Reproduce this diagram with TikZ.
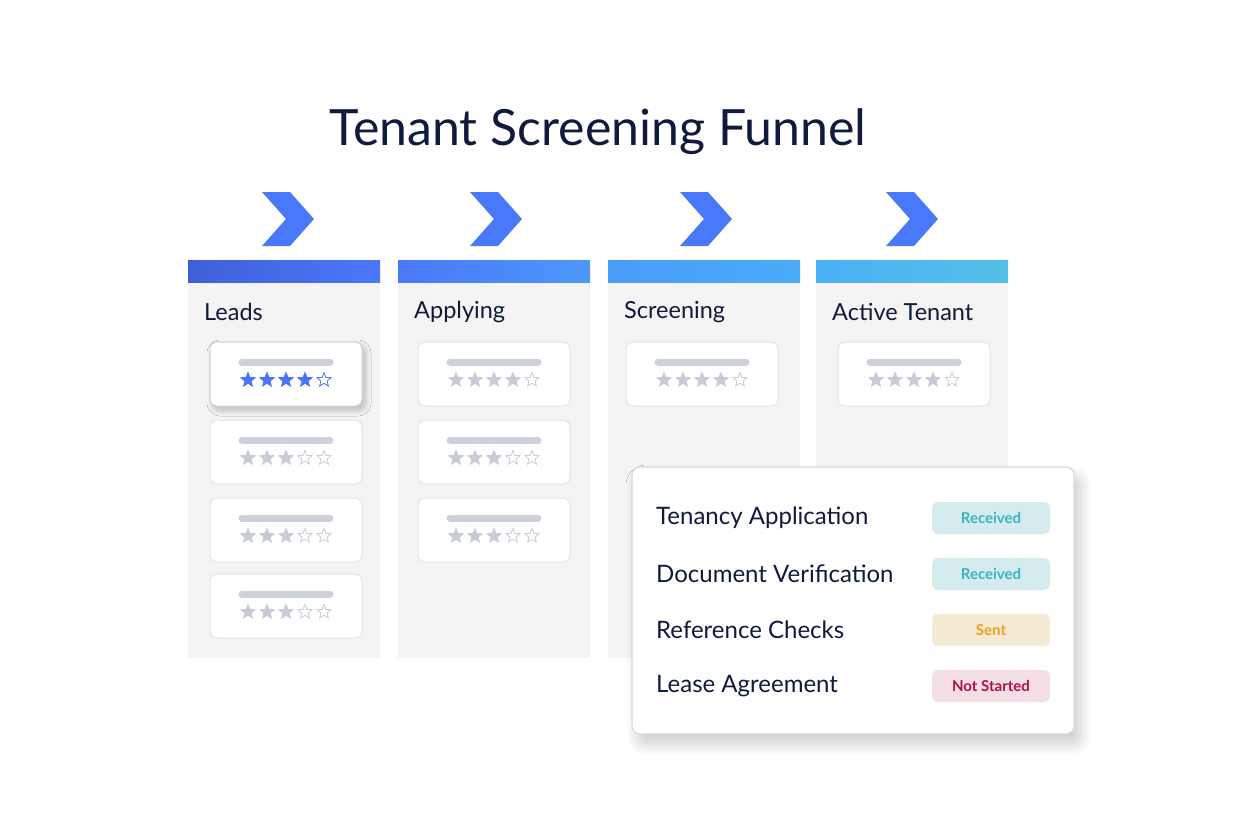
\documentclass[tikz,border=0pt]{standalone}
\usepackage{fontspec}
\setmainfont{Lato}
\usetikzlibrary{shapes.geometric,shadows.blur}
\definecolor{ink}{HTML}{0F1A3C}
\definecolor{colbg}{HTML}{F4F4F5}
\definecolor{cardln}{HTML}{E2E4E8}
\definecolor{barg}{HTML}{CDD1DA}
\definecolor{stg}{HTML}{C6CBD6}
\definecolor{stb}{HTML}{4A73F7}
\definecolor{chev}{HTML}{4A78FA}
\tikzset{
  chevron/.style={fill=chev},
  card/.style={draw=cardln,line width=1pt,fill=white,rounded corners=7pt,minimum width=152pt,minimum height=64pt,inner sep=0},
  coltitle/.style={anchor=west,font=\fontsize{23.5}{26}\selectfont,text=ink,inner sep=0},
  st/.style={star,star points=5,star point ratio=2.3,minimum size=15pt,inner sep=0,line width=0.8pt},
  row/.style={anchor=west,font=\fontsize{24}{26}\selectfont,text=ink,inner sep=0},
  badge/.style={rounded corners=6pt,minimum width=118pt,minimum height=32pt,inner sep=0,font=\fontsize{15}{17}\selectfont\bfseries},
}
\newcommand\stars[4]{% x y filled color
  \foreach \i in {0,...,4}{%
    \ifnum\i<#3
      \node[st,fill=#4,draw=#4] at (#1+19*\i,#2) {};
    \else
      \node[st,draw=#4] at (#1+19*\i,#2) {};
    \fi}}
\newcommand\mkcard[5]{% name x y nstars color
  \node[card] (#1) at (#2,#3) {};
  \draw[barg,line width=7pt,line cap=round] (#2-44,#3-12) -- (#2+44,#3-12);
  \stars{#2-38}{#3+6}{#4}{#5}}
\begin{document}
\begin{tikzpicture}[x=1pt,y=-1pt]
\useasboundingbox (0,0) rectangle (1260,840);
\node[font=\fontsize{50}{54}\selectfont,text=ink] (title) at (598,132) {Tenant Screening Funnel};
% chevrons
\foreach \x in {262,470,680,886}{
  \fill[chevron] (\x,192) -- (\x+28,192) -- (\x+52,219) -- (\x+28,246) -- (\x,246) -- (\x+24,219) -- cycle;}
% columns
\foreach \x in {188,398,608,816}{ \fill[colbg] (\x,282) rectangle (\x+192,658); }
\shade[left color={rgb,255:red,63;green,95;blue,216},right color={rgb,255:red,74;green,120;blue,250}] (188,260) rectangle (380,282);
\shade[left color={rgb,255:red,74;green,120;blue,250},right color={rgb,255:red,76;green,152;blue,250}] (398,260) rectangle (590,282);
\shade[left color={rgb,255:red,74;green,156;blue,250},right color={rgb,255:red,74;green,172;blue,248}] (608,260) rectangle (800,282);
\shade[left color={rgb,255:red,74;green,176;blue,245},right color={rgb,255:red,85;green,191;blue,232}] (816,260) rectangle (1008,282);
\node[coltitle] (t1) at (204,312) {Leads};
\node[coltitle] (t2) at (414,312) {Applying};
\node[coltitle] (t3) at (624,312) {Screening};
\node[coltitle] (t4) at (832,312) {Active Tenant};
% cards
\node[card,draw=cardln!80!gray,blur shadow={shadow xshift=3pt,shadow yshift=-4pt,shadow blur radius=6pt,shadow blur steps=10,shadow opacity=25}] (c11) at (286,374) {};
\draw[barg,line width=7pt,line cap=round] (242,362) -- (330,362);
\stars{248}{380}{4}{stb}
\mkcard{c12}{286}{452}{3}{stg}
\mkcard{c13}{286}{530}{3}{stg}
\mkcard{c14}{286}{606}{3}{stg}
\mkcard{c21}{494}{374}{4}{stg}
\mkcard{c22}{494}{452}{3}{stg}
\mkcard{c23}{494}{530}{3}{stg}
\mkcard{c31}{702}{374}{4}{stg}
\mkcard{c41}{914}{374}{4}{stg}
% panel
\node[draw={rgb,255:red,214;green,217;blue,223},line width=1.2pt,fill=white,rounded corners=8pt,minimum width=442pt,minimum height=267pt,inner sep=0,blur shadow={shadow xshift=6pt,shadow yshift=-10pt,shadow blur radius=12pt,shadow blur steps=14,shadow opacity=20}] (panel) at (853,600.5) {};
\node[row] (r1) at (656,518) {Tenancy Application};
\node[row] (r2) at (656,574) {Document Verification};
\node[row] (r3) at (656,630) {Reference Checks};
\node[row] (r4) at (656,686) {Lease Agreement};
\node[badge,fill={rgb,255:red,213;green,236;blue,238},text={rgb,255:red,59;green,179;blue,195}] (b1) at (991,518) {Received};
\node[badge,fill={rgb,255:red,213;green,236;blue,238},text={rgb,255:red,59;green,179;blue,195}] (b2) at (991,574) {Received};
\node[badge,fill={rgb,255:red,245;green,235;blue,213},text={rgb,255:red,232;green,163;blue,23}] (b3) at (991,630) {Sent};
\node[badge,fill={rgb,255:red,245;green,223;blue,230},text={rgb,255:red,176;green,18;blue,63}] (b4) at (991,686) {Not Started};
\end{tikzpicture}
\end{document}
